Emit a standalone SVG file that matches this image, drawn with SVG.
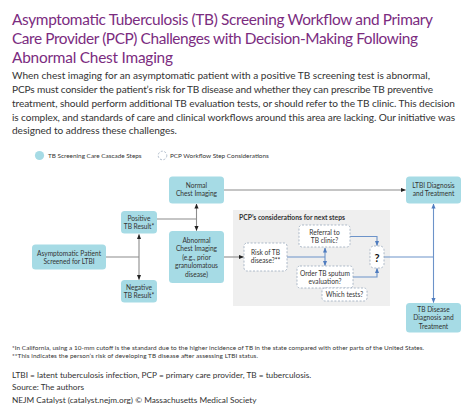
<svg xmlns="http://www.w3.org/2000/svg" width="474" height="417" viewBox="0 0 474 417">
<defs>
<style>
.title{font-family:Lato,"Open Sans",sans-serif;font-size:15.4px;fill:#7b2c7f}
.para{font-family:Lato,"Open Sans",sans-serif;font-size:10.1px;fill:#333}
.lg{font-family:Lato,"Open Sans",sans-serif;font-size:6.4px;fill:#333}
.nt{font-family:Lato,"Open Sans",sans-serif;font-size:6.6px;fill:#333;text-anchor:middle}
.node{fill:#a6dbe5;stroke:none}
.dash{fill:#fff;stroke:#9aa9bd;stroke-width:0.8;stroke-dasharray:2 1.6}
.gl{fill:none;stroke:#8c8c8c;stroke-width:1.1}
.bl{fill:none;stroke:#6c93c9;stroke-width:1.1}
.fn{font-family:Lato,"Open Sans",sans-serif;font-size:6.4px;fill:#333}
.ft{font-family:Lato,"Open Sans",sans-serif;font-size:8.25px;fill:#333}
</style>
<marker id="ag" viewBox="0 0 6 6" refX="5.5" refY="3" markerWidth="5" markerHeight="5" orient="auto-start-reverse" markerUnits="userSpaceOnUse"><path d="M0,0.5 L6,3 L0,5.5 Z" fill="#222"/></marker>
<marker id="ab" viewBox="0 0 6 6" refX="5.5" refY="3" markerWidth="5" markerHeight="5" orient="auto-start-reverse" markerUnits="userSpaceOnUse"><path d="M0,0.5 L6,3 L0,5.5 Z" fill="#4f7cbf"/></marker>
</defs>
<rect width="474" height="417" fill="#fff"/>
<g id="title">
<text class="title" x="12" y="25" textLength="421">Asymptomatic Tuberculosis (TB) Screening Workflow and Primary</text>
<text class="title" x="12" y="44" textLength="406">Care Provider (PCP) Challenges with Decision-Making Following</text>
<text class="title" x="12" y="63" textLength="161">Abnormal Chest Imaging</text>
</g>
<g id="intro">
<text class="para" x="12" y="79" textLength="418">When chest imaging for an asymptomatic patient with a positive TB screening test is abnormal,</text>
<text class="para" x="12" y="93" textLength="421">PCPs must consider the patient’s risk for TB disease and whether they can prescribe TB preventive</text>
<text class="para" x="12" y="107" textLength="443">treatment, should perform additional TB evaluation tests, or should refer to the TB clinic. This decision</text>
<text class="para" x="12" y="121" textLength="443">is complex, and standards of care and clinical workflows around this area are lacking. Our initiative was</text>
<text class="para" x="12" y="134" textLength="165">designed to address these challenges.</text>
</g>
<g id="legend">
<circle cx="39.5" cy="155.5" r="4.6" fill="#a6dbe5"/>
<text class="lg" x="48" y="158">TB Screening Care Cascade Steps</text>
<circle cx="162.5" cy="155.5" r="4.3" class="dash"/>
<text class="lg" x="170" y="158">PCP Workflow Step Considerations</text>
</g>
<rect id="panel" x="233" y="210" width="157" height="96" fill="#efefef"/>
<text class="nt" x="239" y="220" style="text-anchor:start;font-weight:bold;font-size:6.8px">PCP’s considerations for next steps</text>
<g id="connectors">
<path class="gl" d="M106,257 H139"/>
<path class="gl" d="M139,257 V234.5" marker-end="url(#ag)"/>
<path class="gl" d="M139,257 V279.5" marker-end="url(#ag)"/>
<path class="gl" d="M157,219 H196.5"/>
<path class="gl" d="M196.5,204 V230.5" marker-start="url(#ag)" marker-end="url(#ag)"/>
<path class="gl" d="M224,190 H405.5" marker-end="url(#ag)"/>
<path class="gl" d="M224,257 H243.5" marker-end="url(#ag)"/>
<path class="bl" d="M287,257 H325"/>
<path class="bl" d="M325,248 V265.5" marker-start="url(#ab)" marker-end="url(#ab)"/>
<path class="bl" d="M350,236.5 H377 V245.5" marker-end="url(#ab)"/>
<path class="bl" d="M353,277 H377 V268.5" marker-end="url(#ab)"/>
<path class="bl" d="M384,257 H433.5"/>
<path class="bl" d="M433.5,204 V302.5" marker-start="url(#ab)" marker-end="url(#ab)"/>
</g>
<g id="normal">
<rect class="node" x="169" y="176.5" width="55" height="27" rx="3.5"/>
<text class="nt" x="196.5" y="187.5">Normal</text>
<text class="nt" x="196.5" y="196">Chest Imaging</text>
</g>
<g id="positive">
<rect class="node" x="121" y="211" width="36" height="22.5" rx="3.5"/>
<text class="nt" x="139" y="220.5">Positive</text>
<text class="nt" x="139" y="228.5">TB Result*</text>
</g>
<g id="abnormal">
<rect class="node" x="169" y="231" width="55" height="52" rx="3.5"/>
<text class="nt" x="196.5" y="242.5">Abnormal</text>
<text class="nt" x="196.5" y="251">Chest Imaging</text>
<text class="nt" x="196.5" y="259.5">(e.g., prior</text>
<text class="nt" x="196.5" y="268">granulomatous</text>
<text class="nt" x="196.5" y="276.5">disease)</text>
</g>
<g id="patient">
<rect class="node" x="32" y="244.5" width="74" height="25" rx="3.5"/>
<text class="nt" x="69" y="255.5">Asymptomatic Patient</text>
<text class="nt" x="69" y="263.5">Screened for LTBI</text>
</g>
<g id="negative">
<rect class="node" x="121" y="280" width="36" height="22.5" rx="3.5"/>
<text class="nt" x="139" y="289.5">Negative</text>
<text class="nt" x="139" y="297.5">TB Result*</text>
</g>
<g id="ltbi">
<rect class="node" x="406" y="176.5" width="55" height="27" rx="3.5"/>
<text class="nt" x="433.5" y="187.5">LTBI Diagnosis</text>
<text class="nt" x="433.5" y="196">and Treatment</text>
</g>
<g id="tbdisease">
<rect class="node" x="406" y="303" width="55" height="29.5" rx="3.5"/>
<text class="nt" x="433.5" y="311.5">TB Disease</text>
<text class="nt" x="433.5" y="320">Diagnosis and</text>
<text class="nt" x="433.5" y="328.5">Treatment</text>
</g>
<g id="risk">
<rect class="dash" x="244" y="243" width="43" height="28" rx="3"/>
<text class="nt" x="265.5" y="255">Risk of TB</text>
<text class="nt" x="265.5" y="262.5">disease?**</text>
</g>
<g id="referral">
<rect class="dash" x="299" y="225" width="51" height="22" rx="3"/>
<text class="nt" x="324.5" y="235">Referral to</text>
<text class="nt" x="324.5" y="243">TB clinic?</text>
</g>
<g id="order">
<rect class="dash" x="297" y="266" width="56" height="22" rx="3"/>
<text class="nt" x="325" y="275.5">Order TB sputum</text>
<text class="nt" x="325" y="283.5">evaluation?</text>
</g>
<g id="whichtests">
<rect class="dash" x="322" y="288" width="45" height="13" rx="3"/>
<text class="nt" x="344.5" y="297">Which tests?</text>
</g>
<g id="question">
<rect class="dash" x="370" y="246" width="14" height="22" rx="4"/>
<text class="nt" x="377" y="261.5" style="font-weight:bold;font-size:11px;fill:#111">?</text>
</g>
<g id="footer">
<text class="fn" x="12" y="350" textLength="412">*In California, using a 10-mm cutoff is the standard due to the higher incidence of TB in the state compared with other parts of the United States.</text>
<text class="fn" x="12" y="358" textLength="246">**This indicates the person’s risk of developing TB disease after assessing LTBI status.</text>
<text class="ft" x="12" y="378">LTBI = latent tuberculosis infection, PCP = primary care provider, TB = tuberculosis.</text>
<text class="ft" x="12" y="390">Source: The authors</text>
<text class="ft" x="12" y="403">NEJM Catalyst (catalyst.nejm.org) © Massachusetts Medical Society</text>
</g>
</svg>
